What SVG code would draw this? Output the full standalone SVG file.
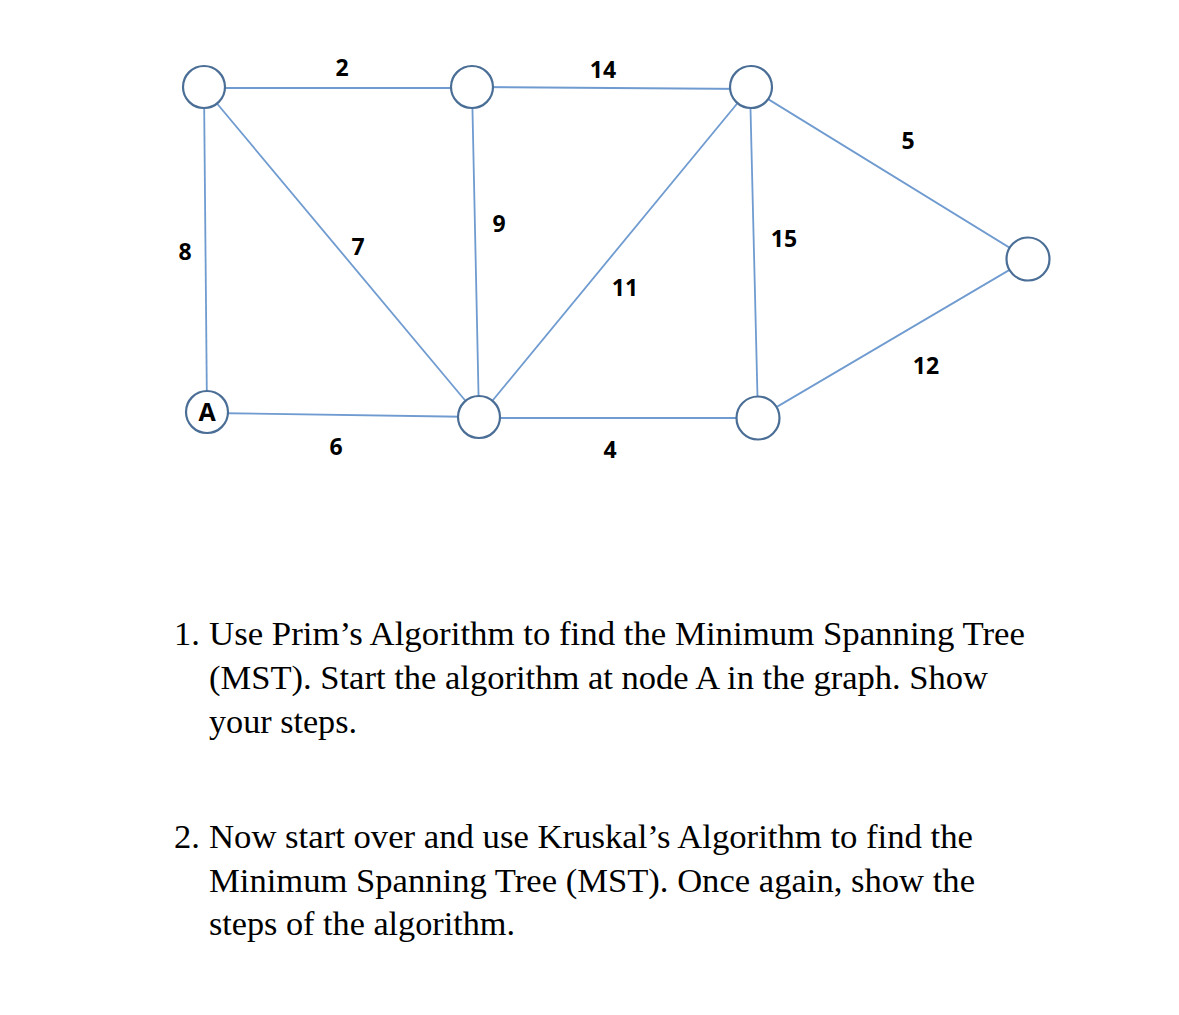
<svg xmlns="http://www.w3.org/2000/svg" width="1179" height="1015" viewBox="0 0 1179 1015">
<style>
.edge{stroke:#6f9bd0;stroke-width:1.8;fill:none}
.node{fill:#ffffff;stroke:#4a6e96;stroke-width:2.2}
.lbl{font-family:"Open Sans","Liberation Sans",sans-serif;font-weight:bold;font-size:23px;fill:#000;text-anchor:middle}
.txt{font-family:"Liberation Serif","Times New Roman",serif;font-size:34.5px;fill:#000}
</style>
<rect width="1179" height="1015" fill="#ffffff"/>
<g id="connectors">
<line class="edge" x1="204" y1="88" x2="472" y2="88"/>
<line class="edge" x1="472" y1="87" x2="750" y2="89"/>
<line class="edge" x1="750" y1="88" x2="1028" y2="259"/>
<line class="edge" x1="1028" y1="259" x2="758" y2="418"/>
<line class="edge" x1="204" y1="88" x2="207" y2="412"/>
<line class="edge" x1="204" y1="88" x2="479" y2="417"/>
<line class="edge" x1="472" y1="87" x2="479" y2="417"/>
<line class="edge" x1="750" y1="88" x2="479" y2="417"/>
<line class="edge" x1="750" y1="88" x2="758" y2="418"/>
<line class="edge" x1="207" y1="413" x2="479" y2="417"/>
<line class="edge" x1="479" y1="418" x2="758" y2="418"/>
</g>
<g id="edge-labels">
<text class="lbl" x="342" y="76">2</text>
<text class="lbl" x="603" y="78">14</text>
<text class="lbl" x="908" y="149">5</text>
<text class="lbl" x="499" y="232">9</text>
<text class="lbl" x="185" y="260">8</text>
<text class="lbl" x="358" y="255">7</text>
<text class="lbl" x="784" y="247">15</text>
<text class="lbl" x="625" y="296">11</text>
<text class="lbl" x="926" y="374">12</text>
<text class="lbl" x="336" y="455">6</text>
<text class="lbl" x="610" y="458">4</text>
</g>
<g id="node-1"><circle class="node" cx="204" cy="87" r="21"/></g>
<g id="node-2"><circle class="node" cx="472" cy="87" r="21"/></g>
<g id="node-3"><circle class="node" cx="751" cy="87" r="21"/></g>
<g id="node-4"><circle class="node" cx="1028" cy="259" r="21.5"/></g>
<g id="node-5"><circle class="node" cx="758" cy="418" r="21.5"/></g>
<g id="node-6"><circle class="node" cx="479" cy="417" r="21"/></g>
<g id="node-A"><circle class="node" cx="207" cy="412" r="21"/><text class="lbl" x="207" y="421" style="font-size:25px">A</text></g>
<g id="question-text">
<text class="txt" x="174" y="645">1.</text>
<text class="txt" x="209" y="645" textLength="816" lengthAdjust="spacingAndGlyphs">Use Prim’s Algorithm to find the Minimum Spanning Tree</text>
<text class="txt" x="209" y="689" textLength="779" lengthAdjust="spacingAndGlyphs">(MST). Start the algorithm at node A in the graph. Show</text>
<text class="txt" x="209" y="733" textLength="148" lengthAdjust="spacingAndGlyphs">your steps.</text>
<text class="txt" x="174" y="848">2.</text>
<text class="txt" x="209" y="848" textLength="764" lengthAdjust="spacingAndGlyphs">Now start over and use Kruskal’s Algorithm to find the</text>
<text class="txt" x="209" y="892" textLength="766" lengthAdjust="spacingAndGlyphs">Minimum Spanning Tree (MST). Once again, show the</text>
<text class="txt" x="209" y="935" textLength="306" lengthAdjust="spacingAndGlyphs">steps of the algorithm.</text>
</g>
</svg>
